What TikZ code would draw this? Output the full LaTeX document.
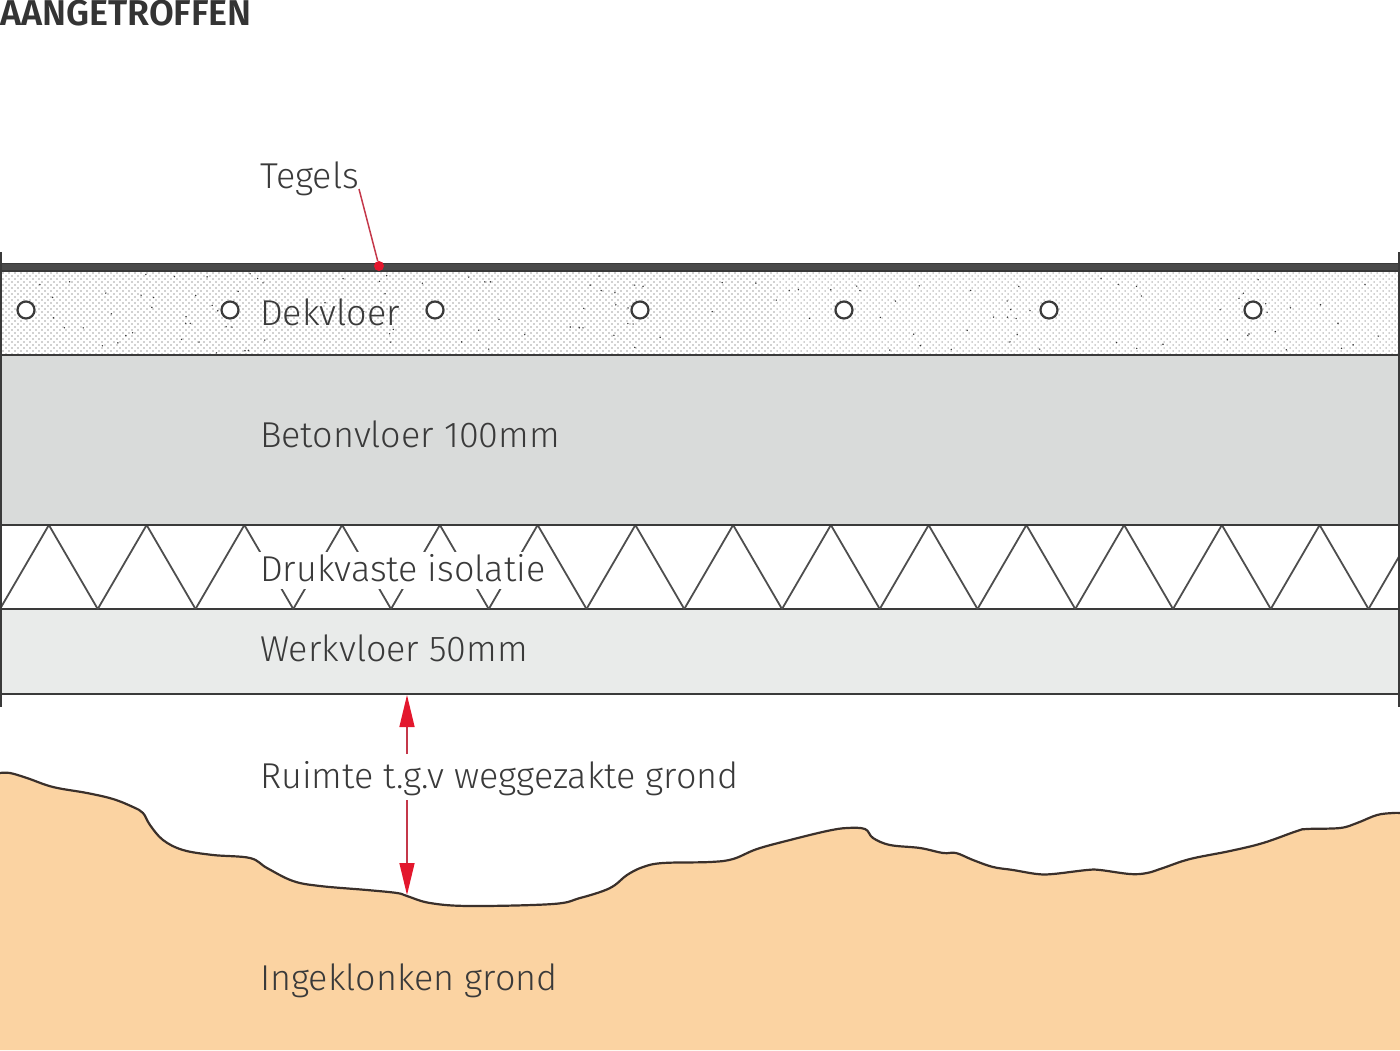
\documentclass[tikz,border=0pt]{standalone}
\usepackage{fontspec}
\setmainfont{Fira Sans Light}
\newfontfamily\titlefont{Fira Sans SemiBold}
\usetikzlibrary{patterns.meta,arrows.meta}

\definecolor{inkt}{HTML}{3A3A3A}
\definecolor{tegel}{HTML}{4A4A4A}
\definecolor{beton}{HTML}{D9DBDA}
\definecolor{werk}{HTML}{E9EBEA}
\definecolor{grond}{HTML}{FBD3A2}
\definecolor{grondlijn}{HTML}{3A302B}
\definecolor{rood}{HTML}{E3172D}
\definecolor{leader}{HTML}{C4384A}

\begin{document}
\begin{tikzpicture}[
		x=1pt, y=-1pt,
		laag/.style={draw=inkt, line width=2.6pt},
		lijn/.style={draw=inkt!90, line width=1.8pt},
		label-text/.style={anchor=base west, inner sep=0pt, text=inkt, font=\fontsize{35.95}{36}\selectfont},
		wapening/.style={circle, draw=inkt, fill=white, line width=2.2pt, minimum size=17pt, inner sep=0pt},
		maat/.style={draw=leader, line width=1.5pt},
		maatpijl/.style={maat, -{Triangle[length=32pt,width=15pt,fill=rood,color=rood]}},
		]

		\useasboundingbox (0,0) rectangle (1400,1050);

		\def\boven{525}
		\def\onder{609}
		\def\slag{97.75}
		\def\grondrand{plot[smooth, tension=0.6] coordinates {
			(0,773) (10,773) (27,778) (53,787) (87,793) (113,799) (133,807) (143,813) (150,825)
			(163,840) (183,850) (213,855) (250,858) (267,868) (293,881) (320,886) (367,890)
			(397,893) (407,896) (430,903) (470,906) (553,904) (580,898) (603,891) (615,885)
			(627,875) (643,867) (663,863) (710,862) (733,859) (757,849) (790,840) (827,831)
			(847,828) (865,829) (873,838) (890,845) (920,848) (943,853) (956,853) (973,860)
			(993,867) (1013,870) (1037,874) (1053,874) (1087,870) (1100,870) (1130,874)
			(1147,873) (1163,868) (1190,859) (1230,851) (1263,843) (1297,831) (1307,829)
			(1340,828) (1357,823) (1377,815) (1393,813) (1400,813)}}

		% grond
		\fill[grond] \grondrand -- (1400,1050) -- (0,1050) -- cycle;
		\draw[draw=grondlijn, line width=2.2pt] \grondrand;

		% lagen
		\fill[pattern={Dots[distance=4.243pt,radius=0.8pt,angle=45]}, pattern color=black!42] (0,271) rectangle (1400,355);
		\pgfmathsetseed{7}
		\foreach \i in {1,...,130}
			\fill[black!80] ({1400*rnd},{273+80*rnd}) circle (0.8pt);
		\fill[beton] (0,355) rectangle (1400,525);
		\fill[werk] (0,609) rectangle (1400,694);
		\draw[draw=inkt, line width=1.6pt, fill=tegel] (-2,263.5) rectangle (1402,271);
		\draw[laag] (0,355) -- (1400,355);
		\draw[laag] (0,609) -- (1400,609);
		\draw[laag] (0,694) -- (1400,694);

		% isolatie
		\begin{scope}
			\clip (0,\boven) rectangle (1399,\onder);
			\foreach \n in {0,...,14}
				\draw[lijn] ({\n*\slag},\onder) -- ({(\n+0.5)*\slag},\boven) -- ({(\n+1)*\slag},\onder);
		\end{scope}
		\fill[white] (258,552) rectangle (548,589);
		\draw[laag] (0,525) -- (1400,525);

		% wapening
		\foreach \n/\x in {1/26,2/230,3/435,4/640,5/844,6/1049,7/1253}
			\node[wapening] (wap\n) at (\x,310) {};

		% eindlijnen
		\draw[line width=1.6pt, draw=inkt] (1,252) -- (1,707);
		\draw[line width=1.6pt, draw=inkt] (1399,252) -- (1399,707);

		% teksten
		\node[anchor=base west, inner sep=0pt, text=inkt!90!black, font=\titlefont\fontsize{35.9}{36}\selectfont] (titel) at (0,25) {AANGETROFFEN};
		\node[label-text] (tegels) at (260,188) {Tegels};
		\node[label-text] (dekvloer) at (260,325) {Dekvloer};
		\node[label-text] (beton) at (260,447) {Betonvloer 100mm};
		\node[label-text] (isolatie) at (260,581) {Drukvaste isolatie};
		\node[label-text] (werkvloer) at (260,661) {Werkvloer 50mm};
		\node[label-text] (ruimte) at (260,788) {Ruimte t.g.v weggezakte grond};
		\node[label-text] (ingeklonken) at (260,990) {Ingeklonken grond};

		% aanwijzers
		\coordinate (tegels-eind) at (359,189);
		\node[circle, fill=rood, minimum size=10pt, inner sep=0pt] (tegels-punt) at (379,266) {};
		\draw[maat] (tegels-eind) -- (tegels-punt);

		\coordinate (pijl-a) at (407,754);
		\coordinate (pijl-b) at (407,695);
		\coordinate (pijl-c) at (407,800);
		\coordinate (pijl-d) at (407,895);
		\draw[maatpijl] (pijl-a) -- (pijl-b);
		\draw[maatpijl] (pijl-c) -- (pijl-d);

	\end{tikzpicture}
\end{document}
